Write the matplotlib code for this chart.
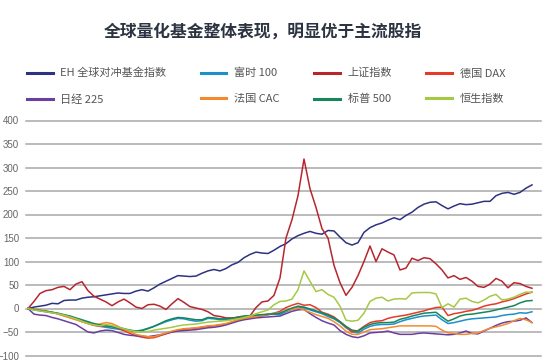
import numpy as np
import matplotlib
matplotlib.use("Agg")
import matplotlib.pyplot as plt

plt.rcParams['font.family'] = ['Noto Sans CJK SC', 'DejaVu Sans']

title = "全球量化基金整体表现，明显优于主流股指"
names = ["EH 全球对冲基金指数", "富时 100", "上证指数", "德国 DAX",
         "日经 225", "法国 CAC", "标普 500", "恒生指数"]
colors = ["#2d3282", "#1d8fc9", "#b7262f", "#e63a28",
          "#6b3f9e", "#f28b30", "#16875a", "#a6c845"]

eh = [0, 3, 5, 7, 11, 10, 17, 18, 18, 22,
      24, 25, 27, 29, 31, 33, 32, 32, 37, 40,
      37, 44, 52, 58, 64, 70, 69, 68, 69, 75,
      80, 83, 80, 85, 93, 98, 108, 115, 120, 118,
      117, 124, 132, 138, 148, 155, 160, 164, 160, 158,
      166, 165, 152, 140, 135, 140, 162, 172, 178, 182,
      188, 193, 189, 198, 205, 215, 222, 226, 227, 219,
      212, 218, 223, 221, 222, 225, 228, 228, 240, 245,
      247, 243, 247, 256, 263]
ftse = [0, -3, -5, -7, -9, -11, -14, -18, -22, -26,
        -30, -34, -38, -40, -42, -44, -46, -48, -48, -46,
        -42, -38, -33, -28, -24, -21, -22, -25, -27, -26,
        -21, -22, -24, -24, -23, -19, -17, -16, -15, -14,
        -13, -12, -13, -7, -2, 2, 2, -3, -7, -11,
        -17, -22, -30, -41, -49, -52, -44, -38, -35, -34,
        -34, -33, -28, -24, -21, -18, -16, -15, -14, -24,
        -32, -30, -27, -24, -22, -21, -20, -19, -18, -15,
        -13, -12, -9, -10, -7]
shanghai = [0, 15, 32, 38, 40, 45, 47, 40, 52, 57,
            38, 26, 20, 14, 6, 14, 20, 12, 3, 0,
            8, 9, 5, -2, 10, 21, 13, 4, 1, -2,
            -7, -15, -17, -20, -20, -19, -18, -16, 2, 14,
            16, 28, 65, 150, 189, 240, 318, 255, 215, 170,
            150, 92, 55, 28, 45, 70, 100, 133, 100, 127,
            120, 114, 82, 86, 107, 102, 108, 106, 95, 82,
            65, 70, 62, 66, 58, 47, 45, 52, 64, 58,
            44, 55, 53, 47, 43]
dax = [0, -2, -4, -6, -8, -11, -15, -19, -23, -28,
       -32, -36, -38, -37, -38, -42, -47, -53, -58, -61,
       -63, -62, -58, -54, -50, -47, -44, -43, -42, -40,
       -38, -37, -35, -33, -29, -25, -22, -20, -18, -16,
       -13, -10, -6, 2, 7, 11, 7, 8, 2, -8,
       -12, -18, -28, -39, -50, -47, -38, -30, -27, -26,
       -21, -18, -16, -14, -11, -8, -5, -1, 2, 3,
       -15, -11, -9, -6, -4, 0, 5, 8, 10, 14,
       17, 21, 26, 31, 35]
nikkei = [0, -12, -14, -15, -19, -22, -26, -30, -34, -42,
          -50, -52, -48, -46, -47, -51, -55, -57, -58, -59,
          -60, -58, -56, -53, -50, -48, -47, -46, -45, -43,
          -41, -40, -38, -35, -31, -27, -24, -22, -20, -19,
          -18, -17, -16, -11, -6, -3, -2, -11, -19, -26,
          -31, -35, -47, -55, -60, -62, -58, -52, -51, -50,
          -48, -52, -55, -55, -55, -53, -52, -53, -54, -55,
          -56, -55, -52, -48, -53, -54, -48, -42, -36, -31,
          -28, -27, -25, -20, -30]
cac = [0, -1, -3, -5, -8, -12, -16, -20, -24, -28,
       -32, -35, -33, -30, -32, -38, -44, -50, -55, -58,
       -60, -60, -56, -52, -48, -45, -43, -42, -41, -39,
       -37, -36, -34, -32, -28, -24, -21, -19, -17, -15,
       -12, -10, -9, -5, -2, 1, -3, -8, -13, -17,
       -21, -28, -37, -48, -55, -55, -50, -45, -44, -43,
       -41, -39, -37, -37, -37, -37, -37, -37, -38, -46,
       -52, -53, -55, -55, -53, -52, -47, -42, -39, -36,
       -32, -26, -21, -24, -30]
sp500 = [0, -2, -4, -6, -8, -10, -13, -16, -20, -24,
         -28, -32, -35, -37, -39, -41, -43, -46, -48, -47,
         -43, -38, -32, -26, -22, -19, -20, -22, -24, -24,
         -19, -20, -22, -22, -21, -18, -16, -15, -14, -13,
         -12, -11, -10, -4, 1, 5, 3, -1, -5, -9,
         -14, -20, -28, -38, -46, -48, -40, -34, -31, -30,
         -30, -29, -23, -20, -16, -13, -10, -9, -8, -18,
         -27, -22, -16, -13, -12, -10, -8, -6, -3, 0,
         3, 6, 12, 16, 17]
hangseng = [0, -3, -5, -7, -9, -11, -14, -18, -22, -27,
            -32, -35, -37, -34, -36, -40, -43, -47, -49, -50,
            -49, -46, -44, -42, -40, -37, -35, -34, -33, -31,
            -29, -28, -27, -26, -24, -22, -19, -16, -11, -7,
            -3, 8, 15, 16, 20, 40, 80, 58, 36, 40,
            30, 24, 5, -25, -27, -25, -10, 15, 22, 24,
            16, 20, 21, 20, 33, 34, 34, 34, 31, 2,
            10, 3, 20, 22, 15, 12, 18, 26, 30, 18,
            20, 24, 30, 35, 34]

series = [eh, ftse, shanghai, dax, nikkei, cac, sp500, hangseng]
yticks = [-100, -50, 0, 50, 100, 150, 200, 250, 300, 350, 400]

fig = plt.figure(figsize=(5.54, 3.61), dpi=100)
ax = fig.add_axes([26 / 554, 5.5 / 361, 515 / 554, 235 / 361])

handles = []
for vals, name, c in zip(series, names, colors):
    h, = ax.plot(np.arange(len(vals)), vals, color=c, lw=1.1, label=name)
    handles.append(h)

ax.set_xlim(-0.33, 85.5)
ax.set_ylim(-100, 400)
ax.set_yticks(yticks)
ax.set_xticks([])
ax.yaxis.grid(True, color="#a8a8a8", lw=1.1, clip_on=False)
ax.set_axisbelow(True)
for s in ax.spines.values():
    s.set_visible(False)
ax.tick_params(axis='y', length=0, pad=5, labelsize=7, labelcolor="#666666")
for lab in ax.get_yticklabels():
    lab.set_fontfamily('Liberation Sans')

fig.text(0.474, 1 - 32 / 361, title, ha='center', va='center',
         fontsize=12.1, fontweight='bold', color="#2c3442")

order = [0, 4, 1, 5, 2, 6, 3, 7]
leg = fig.legend([handles[i] for i in order], [names[i] for i in order],
                 ncol=4, loc='upper left', bbox_to_anchor=(27 / 554, 1 - 68 / 361),
                 frameon=False, fontsize=8, handlelength=2.3, handletextpad=0.7,
                 columnspacing=3.1, labelspacing=1.4, borderpad=0, borderaxespad=0)
for t in leg.get_texts():
    t.set_color("#555555")
for l in leg.get_lines():
    l.set_linewidth(2.2)

fig.savefig("out.png", dpi=100)
